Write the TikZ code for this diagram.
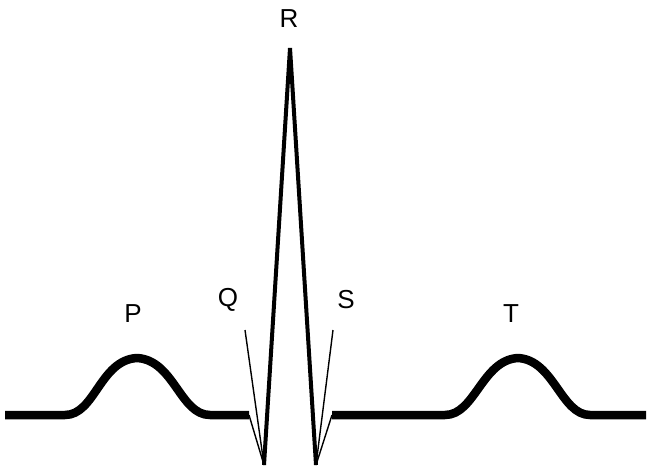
\documentclass[tikz,border=0pt]{standalone}
\usepackage{fontspec}
\setmainfont{Liberation Sans}
\begin{document}
\begin{tikzpicture}[x=1pt,y=-1pt,
  thick line/.style={line width=8.5pt,line join=round},
  leg/.style={line width=4pt,line join=miter},
  thin/.style={line width=1.4pt},
  lbl/.style={font=\fontsize{26}{26}\selectfont}]
\useasboundingbox (0,0) rectangle (650,471);
\coordinate (L0) at (5,415);
\coordinate (Qs) at (249,415);
\coordinate (Qb) at (264,465);
\coordinate (Qt) at (245,330);
\coordinate (Rt) at (290,48);
\coordinate (Sb) at (316,465);
\coordinate (St) at (333,330);
\coordinate (Ss) at (332,415);
\coordinate (R0) at (646,415);
\draw[thick line] (L0) -- (65,415) .. controls (95,415) and (100,360) .. (137,358)
  .. controls (174,360) and (180,415) .. (210,415) -- (Qs);
\draw[thick line] (Ss) -- (445,415) .. controls (475,415) and (482,360) .. (518,358)
  .. controls (554,360) and (561,415) .. (590,415) -- (R0);
\draw[thin] (Qs) -- (Qb);
\draw[thin] (Qt) -- (Qb);
\draw[leg] (Qb) -- (Rt) -- (Sb);
\draw[thin] (Sb) -- (St);
\draw[thin] (Sb) -- (Ss);
\node[lbl] (P) at (133,314) {P};
\node[lbl] (Q) at (228,300) {Q};
\node[lbl] (R) at (289,19) {R};
\node[lbl] (S) at (346,300) {S};
\node[lbl] (T) at (511,314) {T};
\end{tikzpicture}
\end{document}
